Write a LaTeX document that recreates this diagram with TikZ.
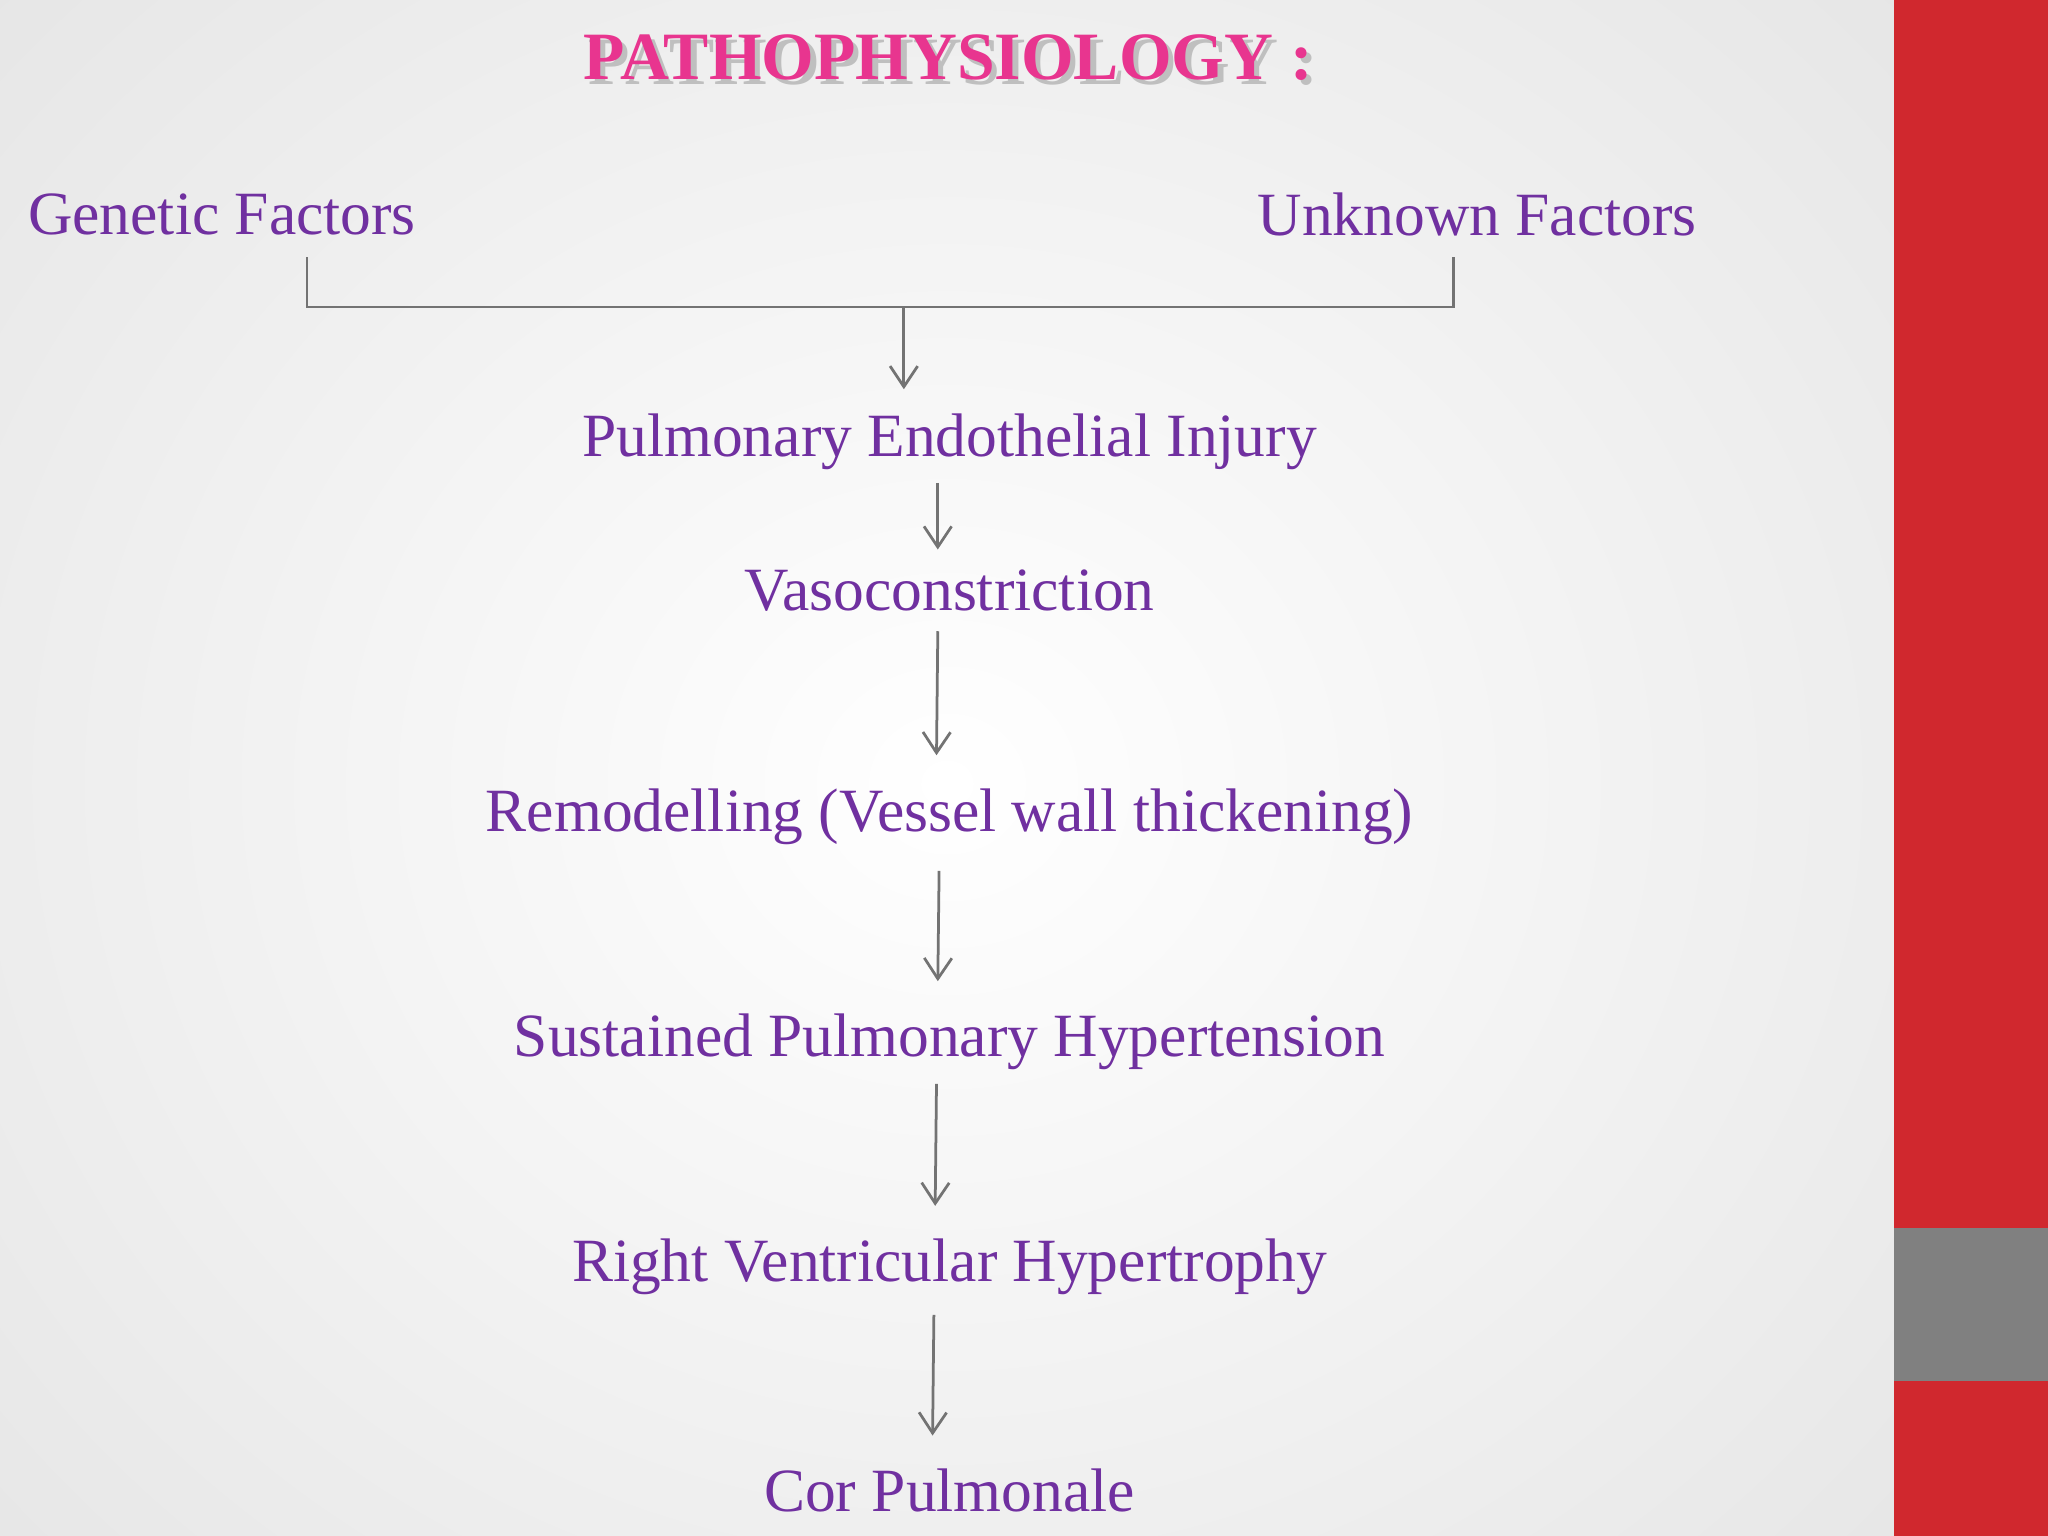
\documentclass[tikz,border=0pt]{standalone}
\usepackage{fontspec}
\setmainfont{Liberation Serif}
\usetikzlibrary{arrows.meta}
\definecolor{txt}{HTML}{7030A0}
\definecolor{ttl}{HTML}{E8358F}
\definecolor{barred}{HTML}{D0282E}
\begin{document}
\begin{tikzpicture}[x=0.02cm,y=-0.02cm,
  lbl/.style={text=txt,font=\fontsize{26.8}{30}\selectfont,inner sep=0pt,anchor=center},
  conn/.style={draw=black!55,line width=1.2pt},
  arr/.style={conn,-{Straight Barb[length=9pt,width=12pt]}}]
\useasboundingbox (0,0) rectangle (1568,1176);
\fill[white] (0,0) rectangle (1450,1176);
\shade[inner color=white,outer color=black!12] (-500,-500) rectangle (1950,1700);
\fill[barred] (1450,0) rectangle (1568,1176);
\fill[black!50] (1450,940) rectangle (1568,1057);
\node[text=black!25,font=\bfseries\fontsize{29.5}{32}\selectfont] at (730,48) {PATHOPHYSIOLOGY :};
\node (title) [text=ttl,font=\bfseries\fontsize{29.5}{32}\selectfont] at (726,44) {PATHOPHYSIOLOGY :};
\node[lbl] (gen) at (170,164) {Genetic Factors};
\node[lbl] (unk) at (1131,164) {Unknown Factors};
\coordinate (gl) at (235,197); \coordinate (gb) at (235,235);
\coordinate (ul) at (1113,197); \coordinate (ub) at (1113,235);
\coordinate (mid) at (692,235); \coordinate (mide) at (692,298);
\node[lbl] (pei) at (727,338) {Pulmonary Endothelial Injury};
\node[lbl] (vas) at (727,452) {Vasoconstriction};
\node[lbl] (rem) at (727,625) {Remodelling (Vessel wall thickening)};
\node[lbl] (sph) at (727,798) {Sustained Pulmonary Hypertension};
\node[lbl] (rvh) at (727,970) {Right Ventricular Hypertrophy};
\node[lbl] (cor) at (727,1141) {Cor Pulmonale};
\draw[conn] (gl) -- (gb) -- (ub) -- (ul);
\draw[arr] (mid) -- (mide);
\draw[arr] ([xshift=-0.18cm,yshift=-0.2cm]pei.south) -- ([xshift=-0.18cm,yshift=0.3cm]vas.north);
\draw[arr] ([xshift=-0.18cm,yshift=-0.3cm]vas.south) -- ([xshift=-0.2cm,yshift=0.5cm]rem.north);
\draw[arr] ([xshift=-0.16cm,yshift=-0.4cm]rem.south) -- ([xshift=-0.18cm,yshift=0.5cm]sph.north);
\draw[arr] ([xshift=-0.2cm,yshift=-0.2cm]sph.south) -- ([xshift=-0.22cm,yshift=0.5cm]rvh.north);
\draw[arr] ([xshift=-0.24cm,yshift=-0.3cm]rvh.south) -- ([xshift=-0.26cm,yshift=0.5cm]cor.north);
\end{tikzpicture}
\end{document}
